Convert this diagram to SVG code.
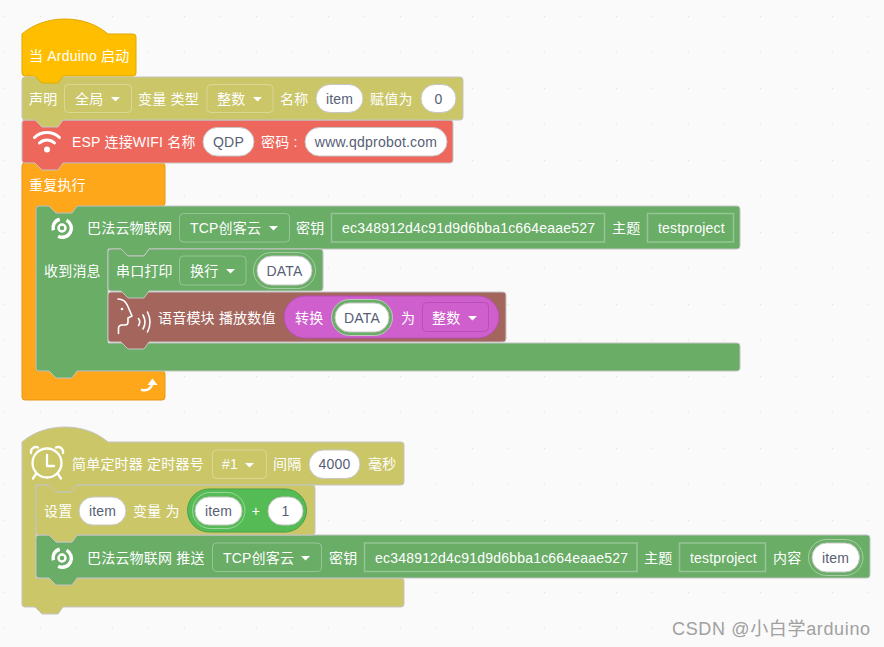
<svg xmlns="http://www.w3.org/2000/svg" width="884" height="647" viewBox="0 0 884 647">
<style>
text{font-family:"Liberation Sans","Noto Sans CJK SC",sans-serif;font-size:14px;fill:#fff;letter-spacing:.2px}
.v{fill:#575E75;text-anchor:middle}
.pill{fill:#fff;stroke:#c6c6c6;stroke-width:1}
.ring{fill:none;stroke:#fff;stroke-opacity:.4;stroke-width:1}
.dd{fill:none;stroke:#fff;stroke-opacity:.3;stroke-width:1}
.fld{fill:none;stroke:#fff;stroke-opacity:.3;stroke-width:1.5}
.b{stroke:#c4c4c4;stroke-width:1}
.ico{fill:none;stroke:#fff;stroke-linecap:round;stroke-linejoin:round}
.arr{fill:#fff}
</style>
<defs>
<pattern id="grid" x="4" y="16" width="36" height="36" patternUnits="userSpaceOnUse"><rect x="0" y="0" width="1" height="1" fill="#dedede"/></pattern>
<path id="car" d="M0 0h9l-4.500 4.500z"/>
<g id="cloud"><path d="M-2.300 -8.700A9 9 0 0 0 -8.700 2.300" fill="none" stroke="#fff" stroke-width="3.500"/><path d="M4.500 -7.800A9 9 0 1 1 -3.800 8.200" fill="none" stroke="#fff" stroke-width="3.500"/><circle r="3.500" fill="none" stroke="#fff" stroke-width="2.500"/></g>
</defs>
<rect width="884" height="647" fill="#fafafa"/>
<rect width="884" height="647" fill="url(#grid)"/>

<g id="repeat"><path fill="#ffa71a" stroke="#e59514" d="M22 166q0-3 3-3H162q3 0 3 3V203q0 3-3 3H77l-5 7H56l-7-7H36V371H162q3 0 3 3V397q0 3-3 3H25q-3 0-3-3Z"/>
<text x="29" y="190">重复执行</text>
<path class="ico" stroke-width="2.500" d="M142 390c5 1 9-1 10.500-7"/><path class="arr" d="M147.500 385l5-6.500 5 6.500z"/></g>

<g id="wifi-connect"><path fill="#ee675c" class="b" d="M25 120H450q3 0 3 3V160q0 3-3 3H63l-5 7H42l-7-7H25q-3 0-3-3V123q0-3 3-3Z"/>
<g class="ico" stroke-width="3"><path d="M34.500 137.500a18 18 0 0 1 25 0"/><path d="M39.500 143a11 11 0 0 1 15 0"/></g><circle cx="47" cy="149.500" r="3" fill="#fff"/>
<text x="72" y="147">ESP 连接WIFI 名称</text>
<rect class="pill" x="203" y="127.500" width="51" height="28.500" rx="14.250"/><text class="v" x="228.500" y="147">QDP</text>
<text x="261" y="147">密码 :</text>
<rect class="pill" x="305" y="127.500" width="142" height="28.500" rx="14.250"/><text class="v" x="376" y="147">www.qdprobot.com</text></g>

<g id="declare"><path fill="#cbc668" class="b" d="M25 77H460q3 0 3 3V117q0 3-3 3H63l-5 7H42l-7-7H25q-3 0-3-3V80q0-3 3-3Z"/>
<text x="29" y="104">声明</text>
<rect class="dd" x="64.500" y="84.500" width="67" height="28" rx="4"/><text x="75" y="104">全局</text><use href="#car" x="111" y="97" fill="#fff"/>
<text x="138" y="104">变量 类型</text>
<rect class="dd" x="207" y="84.500" width="66" height="28" rx="4"/><text x="217" y="104">整数</text><use href="#car" x="253" y="97" fill="#fff"/>
<text x="280" y="104">名称</text>
<rect class="pill" x="316" y="84.500" width="47" height="28" rx="14"/><text class="v" x="339.500" y="104">item</text>
<text x="370" y="104">赋值为</text>
<rect class="pill" x="421" y="84.500" width="35" height="28" rx="14"/><text class="v" x="438.500" y="104">0</text></g>

<g id="arduino-start"><path fill="#ffbf00" stroke="#dfa900" d="M22 34C45 14 85 14 108 34H133q3 0 3 3V73q0 3-3 3H63l-5 7H42l-7-7H25q-3 0-3-3Z"/>
<text x="29" y="61">当 Arduino 启动</text></g>

<g id="mqtt-subscribe"><path fill="#69ad67" class="b" d="M39 206H49l7 7H72l5-7H737q3 0 3 3V246q0 3-3 3H149l-5 7H128l-7-7H108V343H737q3 0 3 3V368q0 3-3 3H77l-5 7H56l-7-7H39q-3 0-3-3V209q0-3 3-3Z"/>
<use href="#cloud" x="62" y="228"/>
<text x="87" y="233">巴法云物联网</text>
<rect class="dd" x="179.500" y="213.500" width="110" height="28.500" rx="4"/><text x="190" y="233">TCP创客云</text><use href="#car" x="269" y="226" fill="#fff"/>
<text x="296" y="233">密钥</text>
<rect class="fld" x="331.500" y="213.500" width="273" height="28.500"/><text x="342" y="233">ec348912d4c91d9d6bba1c664eaae527</text>
<text x="612" y="233">主题</text>
<rect class="fld" x="647.500" y="213.500" width="86" height="28.500"/><text x="658" y="233">testproject</text>
<text x="44" y="276">收到消息</text></g>

<g id="voice"><path fill="#a4655c" class="b" d="M111 292H503q3 0 3 3V339q0 3-3 3H149l-5 7H128l-7-7H111q-3 0-3-3V295q0-3 3-3Z"/>
<g class="ico" stroke-width="1.600"><path d="M118 299c5 0 8 3 9.500 6.500l4.500 10.500-4 2 0 4c0 2-1 3-3 3l-3.500 0c-2 .5-3 1.500-3 3v5.500"/><path d="M138.500 318.500q2.500 3.500 0 7"/><path d="M143 315q4 7 0 14"/><path d="M147.500 312q5 10 0 20"/></g><circle cx="122" cy="309" r="1.300" fill="#fff"/>
<text x="158" y="323">语音模块 播放数值</text>
<rect fill="#cf5fcd" stroke="#b84fb6" x="284" y="296" width="215" height="42" rx="21"/>
<text x="295" y="323">转换</text>
<rect x="331.500" y="299.500" width="61" height="36" rx="18" fill="#69ad67" stroke="#c4c4c4"/>
<rect class="pill" x="335" y="303" width="54" height="29" rx="14.500"/><text class="v" x="362" y="323">DATA</text>
<text x="401" y="323">为</text>
<rect fill="none" stroke="#b84fb6" x="422.500" y="302.500" width="66" height="29" rx="4"/><text x="432" y="323">整数</text><use href="#car" x="468" y="316" fill="#fff"/></g>

<g id="serial-print"><path fill="#69ad67" class="b" d="M111 249H121l7 7H144l5-7H320q3 0 3 3V288q0 3-3 3H149l-5 7H128l-7-7H111q-3 0-3-3V252q0-3 3-3Z"/>
<text x="116" y="276">串口打印</text>
<rect class="dd" x="179.500" y="256" width="66.500" height="29" rx="4"/><text x="190" y="276">换行</text><use href="#car" x="226" y="269" fill="#fff"/>
<rect class="ring" x="253.500" y="252.500" width="62" height="36" rx="18"/>
<rect class="pill" x="257" y="256" width="55" height="29" rx="14.500"/><text class="v" x="284.500" y="276">DATA</text></g>

<g id="timer"><path fill="#cbc668" class="b" d="M22 442C45 422 85 422 108 442H401q3 0 3 3V482q0 3-3 3H77l-5 7H56l-7-7H36V578H401q3 0 3 3V604q0 3-3 3H63l-5 7H42l-7-7H25q-3 0-3-3Z"/>
<g class="ico" stroke-width="2.300"><circle cx="47" cy="463" r="14.500"/><path d="M47 455v11h7"/><path d="M31 453a5 5 0 0 1 7-5.500"/><path d="M56 447.500a5 5 0 0 1 7 5.500"/><path d="M36 474l-3 4.500"/><path d="M58 474l3 4.500"/></g>
<text x="72" y="469">简单定时器 定时器号</text>
<rect class="dd" x="212.500" y="450" width="54" height="28.500" rx="4"/><text x="222" y="469">#1</text><use href="#car" x="245" y="463" fill="#fff"/>
<text x="273" y="469">间隔</text>
<rect class="pill" x="309" y="450" width="51" height="28.500" rx="14.250"/><text class="v" x="334.500" y="469">4000</text>
<text x="368" y="469">毫秒</text></g>

<g id="mqtt-publish"><path fill="#69ad67" class="b" d="M39 535H49l7 7H72l5-7H867q3 0 3 3V575q0 3-3 3H77l-5 7H56l-7-7H39q-3 0-3-3V538q0-3 3-3Z"/>
<use href="#cloud" x="62" y="558"/>
<text x="87" y="563">巴法云物联网 推送</text>
<rect class="dd" x="212.500" y="543" width="109" height="28.500" rx="4"/><text x="223" y="563">TCP创客云</text><use href="#car" x="301" y="556" fill="#fff"/>
<text x="329" y="563">密钥</text>
<rect class="fld" x="364.500" y="543" width="272.500" height="28.500"/><text x="375" y="563">ec348912d4c91d9d6bba1c664eaae527</text>
<text x="644" y="563">主题</text>
<rect class="fld" x="679.500" y="543" width="86" height="28.500"/><text x="690" y="563">testproject</text>
<text x="773" y="563">内容</text>
<rect class="ring" x="808.500" y="539.500" width="54.500" height="36" rx="18"/>
<rect class="pill" x="812" y="543" width="47.500" height="29" rx="14.500"/><text class="v" x="835.500" y="563">item</text></g>

<g id="set-var"><path fill="#cbc668" class="b" d="M39 485H49l7 7H72l5-7H312q3 0 3 3V532q0 3-3 3H77l-5 7H56l-7-7H39q-3 0-3-3V488q0-3 3-3Z"/>
<text x="44" y="516">设置</text>
<rect class="pill" x="79" y="497" width="47" height="28" rx="14"/><text class="v" x="102.500" y="516">item</text>
<text x="133" y="516">变量 为</text>
<rect fill="#55bb55" stroke="#4b9f4b" x="187.500" y="489" width="119" height="43" rx="21.500"/>
<rect class="ring" x="192.500" y="492.500" width="52.500" height="36" rx="18"/>
<rect class="pill" x="195" y="497" width="47" height="28" rx="14"/><text class="v" x="218.500" y="516">item</text>
<text class="v" style="fill:#fff" x="256" y="516">+</text>
<rect class="pill" x="268" y="497" width="35" height="28" rx="14"/><text class="v" x="285.500" y="516">1</text></g>

<text x="672" y="635" style="font-size:18px;fill:#a0a0a0;letter-spacing:.65px">CSDN @小白学arduino</text>
</svg>
